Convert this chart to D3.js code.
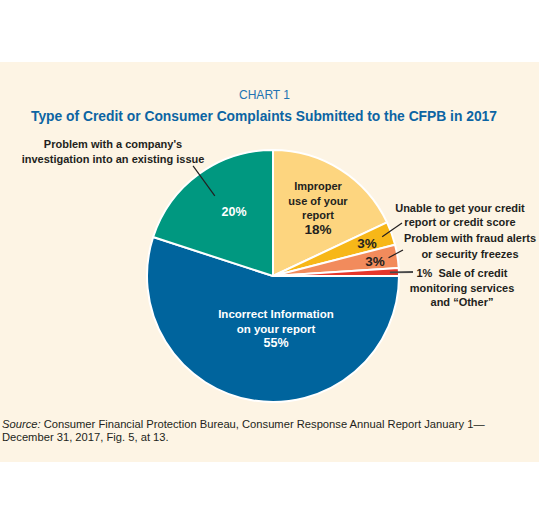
<!DOCTYPE html>
<html>
<head>
<meta charset="utf-8">
<script src="https://cdn.jsdelivr.net/npm/d3@7"></script>
<style>
  body { margin: 0; background: #fff; }
  svg { display: block; }
</style>
</head>
<body>
<svg width="539" height="530"></svg>
<script>
// data, clockwise from 12 o'clock
var categories = [
  "Improper use of your report",
  "Unable to get your credit report or credit score",
  "Problem with fraud alerts or security freezes",
  "Sale of credit monitoring services and \u201cOther\u201d",
  "Incorrect Information on your report",
  "Problem with a company's investigation into an existing issue"
];
var values = [18, 3, 3, 1, 55, 20];
var colors = ["#fdd57f", "#f7b718", "#f28b5c", "#e6362b", "#00649d", "#009880"];

var svg = d3.select("svg"),
    width = +svg.attr("width"),
    height = +svg.attr("height");

var cx = 273, cy = 276, radius = 126;
var font = "'Liberation Sans', Arial, sans-serif";
var ink = "#231f20";

// panel
svg.append("rect")
    .attr("x", 0).attr("y", 62)
    .attr("width", width).attr("height", 400)
    .attr("fill", "#fdf4e4");

svg.append("text")
    .attr("x", 264.5).attr("y", 99)
    .attr("text-anchor", "middle")
    .attr("font-family", font)
    .attr("font-size", 13.5)
    .attr("fill", "#2273b2")
    .attr("textLength", 51)
    .attr("lengthAdjust", "spacingAndGlyphs")
    .text("CHART 1");

svg.append("text")
    .attr("x", 264).attr("y", 121)
    .attr("text-anchor", "middle")
    .attr("font-family", font)
    .attr("font-weight", "bold")
    .attr("font-size", 15)
    .attr("fill", "#0c64a3")
    .attr("textLength", 466)
    .attr("lengthAdjust", "spacingAndGlyphs")
    .text("Type of Credit or Consumer Complaints Submitted to the CFPB in 2017");

var pie = d3.pie().sort(null).value(function(d) { return d; });
var arcs = pie(values);

var arc = d3.arc().innerRadius(0).outerRadius(radius);

var g = svg.append("g").attr("transform", "translate(" + cx + "," + cy + ")");

g.selectAll("path")
    .data(arcs)
    .enter().append("path")
    .attr("d", arc)
    .attr("fill", function(d, i) { return colors[i]; })
    .attr("stroke", "#fff")
    .attr("stroke-width", 2)
    .attr("stroke-linejoin", "round");

function pointAt(angle, r) {
  return [Math.sin(angle) * r, -Math.cos(angle) * r];
}
function mid(d) { return (d.startAngle + d.endAngle) / 2; }

// leader lines: slice index, inner radius, end point (relative to centre) or outer radius
var leaders = [
  {i: 5, r0: 99, r1: 136},
  {i: 1, r0: 116, end: [129, -53]},
  {i: 2, r0: 117, end: [130, -26]},
  {i: 3, r0: 117, end: [140, -4]}
];

g.selectAll("line.leader")
    .data(leaders)
    .enter().append("line")
    .attr("class", "leader")
    .each(function(l) {
      var a = mid(arcs[l.i]);
      var p0 = pointAt(a, l.r0);
      var p1 = l.end ? l.end : pointAt(a, l.r1);
      d3.select(this)
        .attr("x1", p0[0]).attr("y1", p0[1])
        .attr("x2", p1[0]).attr("y2", p1[1]);
    })
    .attr("stroke", function(l) { return l.i === 3 ? "#4a4a4a" : ink; })
    .attr("stroke-width", function(l) { return l.i === 3 ? 1.8 : 1.2; });

// labels, positions relative to pie centre
var pct = values.map(function(v) { return v + "%"; });
var labels = [
  {lines: ["Improper", "use of your", "report"], pctLine: true, x: 45, y: -86, fill: ink, size: 11, pctSize: 13.5, lh: 14.5},
  {lines: ["Unable to get your credit", "report or credit score"], x: 187, y: -64, fill: ink, size: 11, lh: 14},
  {lines: ["Problem with fraud alerts", "or security freezes"], x: 197, y: -34, fill: ink, size: 11, lh: 15.5},
  {lines: ["Sale of credit", "monitoring services", "and \u201cOther\u201d"], pctFirst: true, x: 189, y: 1, fill: ink, size: 11, lh: 14.5},
  {lines: ["Incorrect Information", "on your report"], pctLine: true, x: 3, y: 42, fill: "#fff", size: 11.5, pctSize: 12.5, lh: 14.5},
  {lines: ["Problem with a company's", "investigation into an existing issue"], x: -160, y: -128, fill: ink, size: 11, lh: 14.5}
];

labels.forEach(function(l, i) {
  var t = g.append("text")
      .attr("text-anchor", "middle")
      .attr("font-family", font)
      .attr("font-weight", "bold")
      .attr("fill", l.fill)
      .attr("font-size", l.size);
  l.lines.forEach(function(s, k) {
    var ts = t.append("tspan").attr("x", l.x).attr("y", l.y + k * l.lh);
    if (l.pctFirst && k === 0) {
      ts.text(pct[i]);
      t.append("tspan").attr("dx", 6).text(s);
    } else {
      ts.text(s);
    }
  });
  if (l.pctLine) {
    t.append("tspan").attr("x", l.x).attr("y", l.y + l.lines.length * l.lh)
        .attr("font-size", l.pctSize).text(pct[i]);
  }
});

// percentages drawn inside or next to their slices
var pctLabels = [
  {i: 5, x: -39, y: -60, fill: "#fff", size: 12.5},
  {i: 1, x: 94, y: -28, fill: ink, size: 13.5},
  {i: 2, x: 102, y: -10, fill: ink, size: 13.5}
];

g.selectAll("text.pct")
    .data(pctLabels)
    .enter().append("text")
    .attr("class", "pct")
    .attr("x", function(d) { return d.x; })
    .attr("y", function(d) { return d.y; })
    .attr("text-anchor", "middle")
    .attr("font-family", font)
    .attr("font-weight", "bold")
    .attr("font-size", function(d) { return d.size; })
    .attr("fill", function(d) { return d.fill; })
    .text(function(d) { return pct[d.i]; });

// source note
var src = svg.append("g")
    .attr("font-family", font)
    .attr("font-size", 11.2)
    .attr("fill", ink);
var s1 = src.append("text").attr("x", 2).attr("y", 428);
s1.append("tspan").attr("font-style", "italic").text("Source:");
s1.append("tspan").text(" Consumer Financial Protection Bureau, Consumer Response Annual Report January 1\u2014");
src.append("text").attr("x", 2).attr("y", 441)
    .text("December 31, 2017, Fig. 5, at 13.");
</script>
</body>
</html>
